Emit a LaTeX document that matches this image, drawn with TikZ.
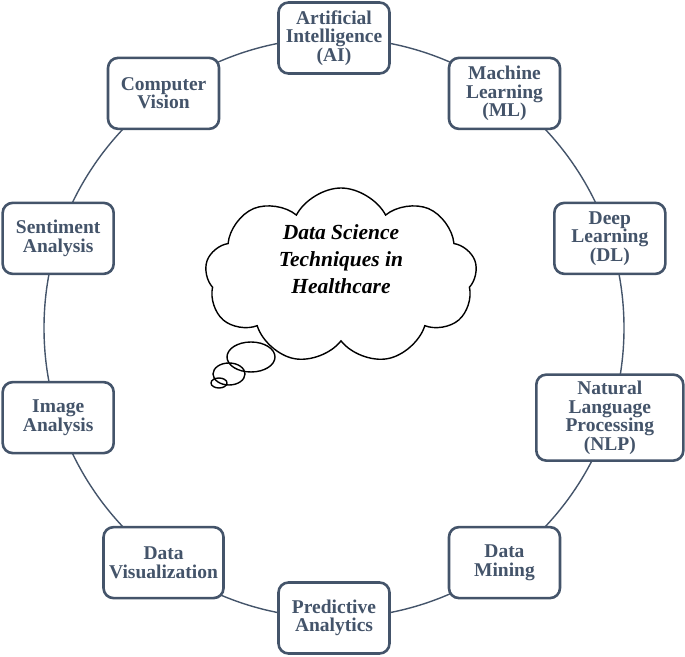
\documentclass[tikz,border=0pt]{standalone}
\usepackage{fontspec}
\setmainfont{Liberation Serif}
\usetikzlibrary{shapes.symbols,shapes.geometric}
\definecolor{slate}{HTML}{44546A}
\begin{document}
\begin{tikzpicture}[x=1pt,y=1pt,
  techbox/.style={draw=slate, line width=2.6pt, rounded corners=10pt, fill=white,
    minimum width=111pt, minimum height=71pt, align=center, inner xsep=4pt,
    text=slate, font=\bfseries\fontsize{19.5}{18.5}\selectfont},
  ring/.style={draw=slate, line width=1.4pt},
  thought/.style={draw=black, line width=1.4pt}]
\useasboundingbox (0,0) rectangle (685,656);
\begin{scope}[shift={(334,328)}]
\coordinate (c) at (0,0);
\draw[ring] (c) circle (290);
\node[techbox] (ai) at (90:290) {Artificial\\Intelligence\\(AI)};
\node[techbox] (ml) at (54:290) {Machine\\Learning\\(ML)};
\node[techbox] (dl) at (18:290) {Deep\\Learning\\(DL)};
\node[techbox, minimum width=147pt, minimum height=86pt] (nlp) at (-18:290) {Natural\\Language\\Processing\\(NLP)};
\node[techbox] (dm) at (-54:290) {Data\\Mining};
\node[techbox] (pa) at (-90:290) {Predictive\\Analytics};
\node[techbox, minimum width=120pt] (dv) at (-126:290) {Data\\Visualization};
\node[techbox] (ia) at (-162:290) {Image\\Analysis};
\node[techbox] (sa) at (162:290) {Sentiment\\Analysis};
\node[techbox] (cv) at (126:290) {Computer\\Vision};
\end{scope}
% thought cloud
\node[thought, fill=white, cloud, cloud puffs=9, cloud puff arc=125, minimum width=272pt, minimum height=176pt] (cloud) at (341,380) {};
\node[thought, ellipse, minimum width=48pt, minimum height=30pt, inner sep=0pt] (b1) at (251,299) {};
\node[thought, ellipse, minimum width=32pt, minimum height=22pt, inner sep=0pt] (b2) at (229,282) {};
\node[thought, ellipse, minimum width=16pt, minimum height=10pt, inner sep=0pt] (b3) at (219,273) {};
\node[align=center, font=\bfseries\itshape\fontsize{21.5}{27}\selectfont] (title) at (341,397) {Data Science\\Techniques in\\Healthcare};
\end{tikzpicture}
\end{document}
